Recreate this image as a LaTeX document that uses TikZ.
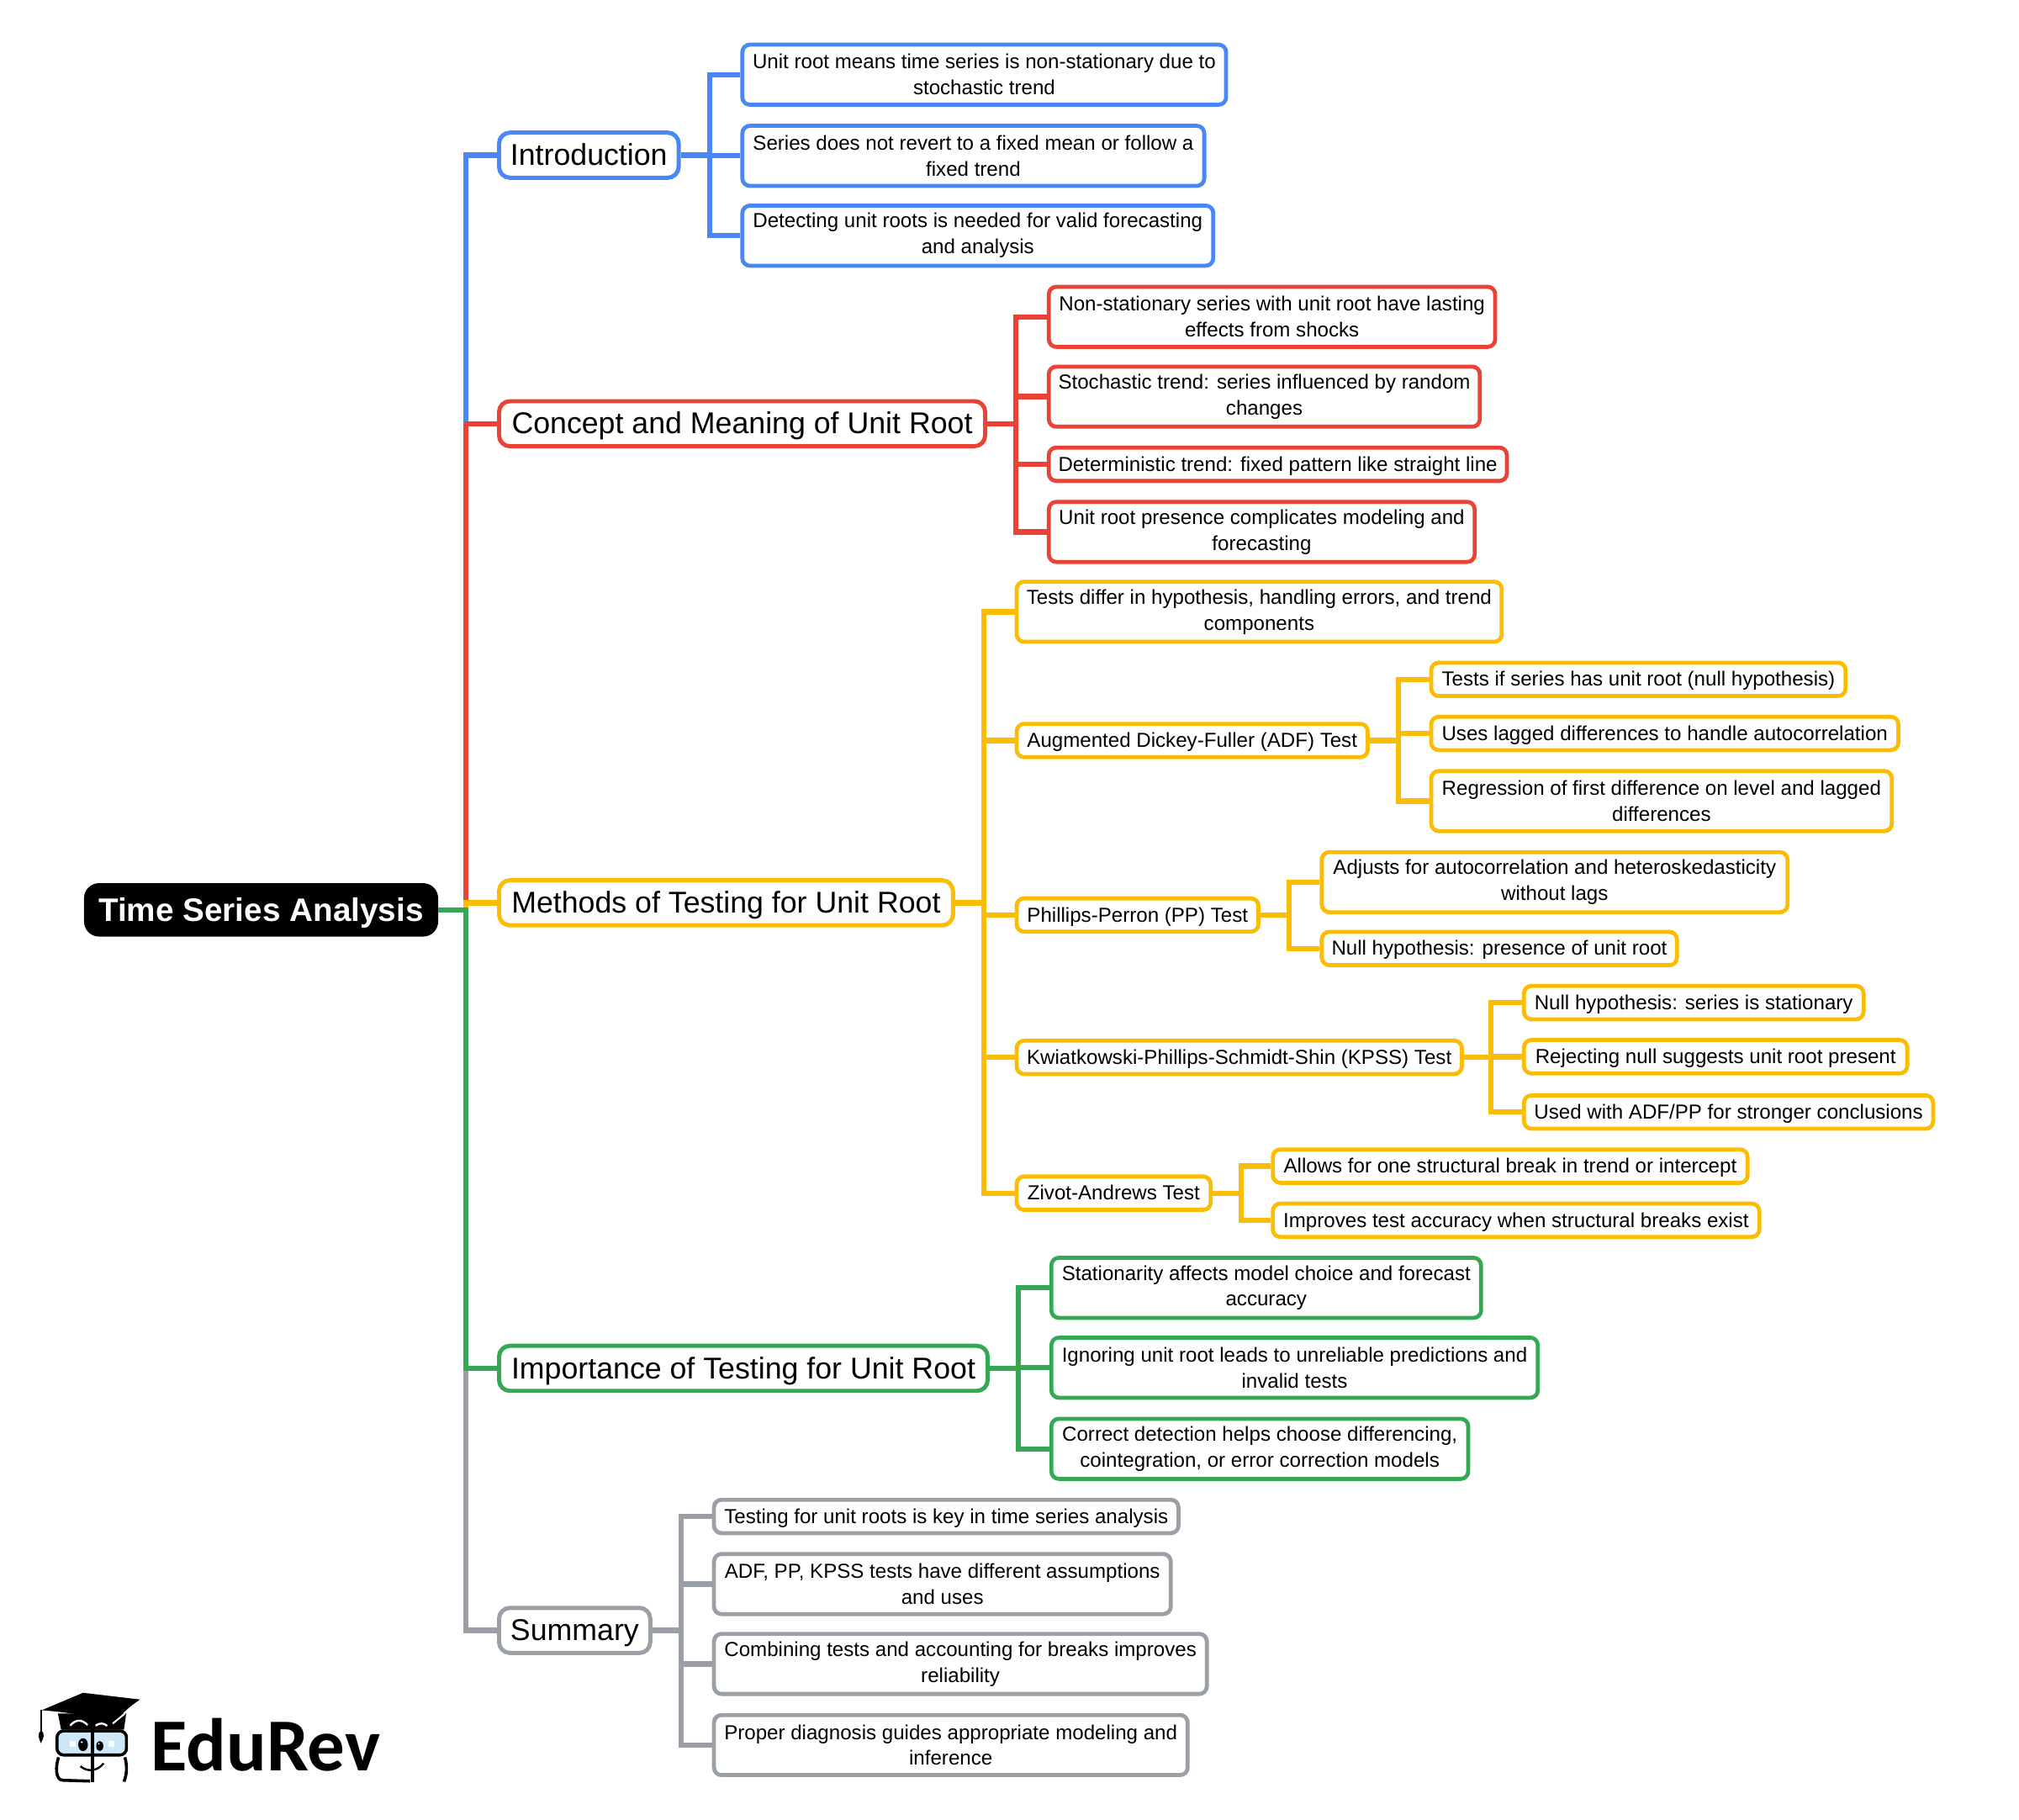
\documentclass[tikz,border=0pt]{standalone}
\usepackage{fontspec}
\usepackage{graphicx}
\setmainfont{Liberation Sans}
\newfontfamily\logofont{Carlito}
\definecolor{mapblue}{HTML}{4A86F5}
\definecolor{mapred}{HTML}{EA4335}
\definecolor{mapyellow}{HTML}{FBBC04}
\definecolor{mapgreen}{HTML}{34A853}
\definecolor{mapgray}{HTML}{9AA0A6}
\definecolor{logoblue}{HTML}{CFE8F8}
\tikzset{
	rootbox/.style={fill=black, text=white, rounded corners=9pt, inner sep=0pt, anchor=west,
		minimum height=32pt, text height=14pt, text depth=0.5pt, font=\fontsize{19.5}{22}\selectfont\bfseries},
	branch/.style={draw, fill=white, line width=2.5pt, rounded corners=6.5pt, inner sep=0pt, anchor=west, xshift=-0.8pt,
		minimum height=27pt, text height=12.8pt, text depth=0.5pt, text=black, font=\fontsize{18}{20}\selectfont},
	leafbase/.style={draw, fill=white, line width=2.4pt, rounded corners=4.5pt, inner sep=0pt, anchor=west, xshift=-0.8pt,
		align=center, text=black, font=\fontsize{12.15}{15.6}\selectfont},
	leaf/.style={leafbase, minimum height=20pt, text height=8.7pt, text depth=0.5pt},
	leaftwo/.style={leafbase, minimum height=36pt},
	link/.style={line width=3.2pt}
}
\begin{document}
\begin{tikzpicture}[x=0.7716pt, y=-0.7716pt]
	\useasboundingbox (0,0) rectangle (1568,1412.6);

	\node[rootbox, minimum width=212.2pt] (root) at (65,706.5) {Time Series Analysis};
	\coordinate (trunk) at (362,706.5);

	\node[branch, draw=mapblue, minimum width=107.6pt] (intro) at (387,120.5) {Introduction};
	\node[branch, draw=mapred, minimum width=291.3pt] (concept) at (387,329) {Concept and Meaning of Unit Root};
	\node[branch, draw=mapyellow, minimum width=272pt] (methods) at (387,701) {Methods of Testing for Unit Root};
	\node[branch, draw=mapgreen, minimum width=292.8pt] (importance) at (387,1062.5) {Importance of Testing for Unit Root};
	\node[branch, draw=mapgray, minimum width=90.6pt] (summary) at (387,1266) {Summary};

	% introduction
	\node[leaftwo, draw=mapblue, minimum width=289.9pt] (introa) at (576,58) {Unit root means time series is non-stationary due to\\stochastic trend};
	\node[leaftwo, draw=mapblue, minimum width=276.8pt] (introb) at (576,121) {Series does not revert to a fixed mean or follow a\\fixed trend};
	\node[leaftwo, draw=mapblue, minimum width=282.2pt] (introc) at (576,183) {Detecting unit roots is needed for valid forecasting\\and analysis};

	% concept
	\node[leaftwo, draw=mapred, minimum width=267.5pt] (conca) at (814,246) {Non-stationary series with unit root have lasting\\effects from shocks};
	\node[leaftwo, draw=mapred, minimum width=258.3pt] (concb) at (814,308) {Stochastic trend: series influenced by random\\changes};
	\node[leaf, draw=mapred, minimum width=274.5pt] (concc) at (814,360.5) {Deterministic trend: fixed pattern like straight line};
	\node[leaftwo, draw=mapred, minimum width=255.2pt] (concd) at (814,413) {Unit root presence complicates modeling and\\forecasting};

	% methods
	\node[leaftwo, draw=mapyellow, minimum width=290.7pt] (differ) at (789,475) {Tests differ in hypothesis, handling errors, and trend\\components};
	\node[leaf, draw=mapyellow, minimum width=210.4pt] (adf) at (789,575) {Augmented Dickey-Fuller (ADF) Test};
	\node[leaf, draw=mapyellow, minimum width=144.9pt] (pp) at (789,710.5) {Phillips-Perron (PP) Test};
	\node[leaf, draw=mapyellow, minimum width=266.8pt] (kpss) at (789,821) {Kwiatkowski-Phillips-Schmidt-Shin (KPSS) Test};
	\node[leaf, draw=mapyellow, minimum width=116.3pt] (za) at (789,926.5) {Zivot-Andrews Test};

	\node[leaf, draw=mapyellow, minimum width=248.3pt] (adfa) at (1111,527.5) {Tests if series has unit root (null hypothesis)};
	\node[leaf, draw=mapyellow, minimum width=279.9pt] (adfb) at (1111,569.5) {Uses lagged differences to handle autocorrelation};
	\node[leaftwo, draw=mapyellow, minimum width=276pt] (adfc) at (1111,622) {Regression of first difference on level and lagged\\differences};

	\node[leaftwo, draw=mapyellow, minimum width=279.1pt] (ppa) at (1026,685) {Adjusts for autocorrelation and heteroskedasticity\\without lags};
	\node[leaf, draw=mapyellow, minimum width=212.8pt] (ppb) at (1026,736.5) {Null hypothesis: presence of unit root};

	\node[leaf, draw=mapyellow, minimum width=203.5pt] (kpssa) at (1183,778.5) {Null hypothesis: series is stationary};
	\node[leaf, draw=mapyellow, minimum width=229.7pt] (kpssb) at (1183,820.5) {Rejecting null suggests unit root present};
	\node[leaf, draw=mapyellow, minimum width=245.2pt] (kpssc) at (1183,863.5) {Used with ADF/PP for stronger conclusions};

	\node[leaf, draw=mapyellow, minimum width=284.5pt] (zaa) at (988,905.5) {Allows for one structural break in trend or intercept};
	\node[leaf, draw=mapyellow, minimum width=291.5pt] (zab) at (988,947.5) {Improves test accuracy when structural breaks exist};

	% importance
	\node[leaftwo, draw=mapgreen, minimum width=257.5pt] (impa) at (816,1000) {Stationarity affects model choice and forecast\\accuracy};
	\node[leaftwo, draw=mapgreen, minimum width=291.5pt] (impb) at (816,1062) {Ignoring unit root leads to unreliable predictions and\\invalid tests};
	\node[leaftwo, draw=mapgreen, minimum width=249.8pt] (impc) at (816,1125) {Correct detection helps choose differencing,\\cointegration, or error correction models};

	% summary
	\node[leaf, draw=mapgray, minimum width=278.3pt] (suma) at (554,1177.5) {Testing for unit roots is key in time series analysis};
	\node[leaftwo, draw=mapgray, minimum width=273.7pt] (sumb) at (554,1230) {ADF, PP, KPSS tests have different assumptions\\and uses};
	\node[leaftwo, draw=mapgray, minimum width=295.3pt] (sumc) at (554,1292) {Combining tests and accounting for breaks improves\\reliability};
	\node[leaftwo, draw=mapgray, minimum width=283.8pt] (sumd) at (554,1355) {Proper diagnosis guides appropriate modeling and\\inference};

	% trunk, later ones lie over earlier ones
	\draw[link, mapblue] (root.east) -- (trunk) |- (intro.west);
	\draw[link, mapred] (root.east) -- (trunk) |- (concept.west);
	\draw[link, mapyellow] (trunk) |- (methods.west);
	\draw[link, mapgray] (root.east) -- (trunk) |- (summary.west);
	\draw[link, mapgreen] (root.east) -- (trunk) |- (importance.west);

	% branches
	\coordinate (introbus) at (551,120.5);
	\coordinate (concbus) at (789,329);
	\coordinate (methbus) at (764,701);
	\coordinate (adfbus) at (1086,575);
	\coordinate (ppbus) at (1001,710.5);
	\coordinate (kpssbus) at (1158,821);
	\coordinate (zabus) at (964,926.5);
	\coordinate (impbus) at (791,1062.5);
	\coordinate (sumbus) at (529,1266);

	\foreach \leafname in {introa, introb, introc}
		\draw[link, mapblue] (intro.east) -- (introbus) |- (\leafname.west);
	\foreach \leafname in {conca, concb, concc, concd}
		\draw[link, mapred] (concept.east) -- (concbus) |- (\leafname.west);
	\foreach \leafname in {differ, adf, pp, kpss, za}
		\draw[link, mapyellow] (methods.east) -- (methbus) |- (\leafname.west);
	\foreach \leafname in {adfa, adfb, adfc}
		\draw[link, mapyellow] (adf.east) -- (adfbus) |- (\leafname.west);
	\foreach \leafname in {ppa, ppb}
		\draw[link, mapyellow] (pp.east) -- (ppbus) |- (\leafname.west);
	\foreach \leafname in {kpssa, kpssb, kpssc}
		\draw[link, mapyellow] (kpss.east) -- (kpssbus) |- (\leafname.west);
	\foreach \leafname in {zaa, zab}
		\draw[link, mapyellow] (za.east) -- (zabus) |- (\leafname.west);
	\foreach \leafname in {impa, impb, impc}
		\draw[link, mapgreen] (importance.east) -- (impbus) |- (\leafname.west);
	\foreach \leafname in {suma, sumb, sumc, sumd}
		\draw[link, mapgray] (summary.east) -- (sumbus) |- (\leafname.west);

	% logo
	\node[anchor=base west, inner sep=0pt] (edurev) at (117,1375) {\fontsize{44.8}{48}\logofont\bfseries EduRev};
	\begin{scope}[shift={(0,1273.5)}, xscale=0.25, yscale=0.2177]
		\fill (180,262) -- (392,262) -- (385,320) -- (190,320) -- cycle;
		\fill (130,250) -- (258,188) -- (435,212) .. controls (400,240) .. (350,298) .. controls (290,270) and (210,258) .. cycle;
		\draw[white, line width=1pt] (350,298) -- (388,262);
		\draw[white, line width=1.2pt] (218,305) .. controls (235,282) and (255,282) .. (272,303);
		\draw[white, line width=1.2pt] (297,305) .. controls (310,295) and (322,295) .. (333,306);
		\draw[line width=1pt] (127,250) -- (127,325);
		\fill (127,322) .. controls (115,335) and (120,350) .. (127,368) .. controls (135,350) and (142,335) .. cycle;
		\draw[fill=logoblue, line width=1.8pt, rounded corners=4pt] (177,324) rectangle (393,410);
		\draw[line width=1.8pt] (182,418) .. controls (172,450) and (172,500) .. (195,500) -- (280,503);
		\draw[line width=1.8pt] (388,418) .. controls (396,450) and (394,480) .. (385,505);
		\draw[line width=2pt] (287,318) -- (287,506);
		\fill (258,373) ellipse [x radius=15, y radius=23];
		\fill (310,378) ellipse [x radius=11, y radius=18];
		\fill[white] (254,364) circle (3.5);
		\fill[white] (307,370) circle (3);
		\fill[white] (217,360) rectangle (234,380);
		\fill[white] (338,360) rectangle (355,380);
		\draw[line width=1.2pt] (250,450) .. controls (270,470) and (300,470) .. (322,440);
	\end{scope}
\end{tikzpicture}
\end{document}
